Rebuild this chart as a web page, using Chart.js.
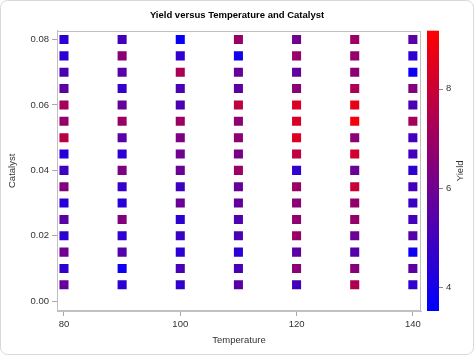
<!DOCTYPE html>
<html><head><meta charset="utf-8">
<script src="https://cdn.jsdelivr.net/npm/chart.js@4/dist/chart.umd.min.js"></script>
<style>html,body{margin:0;padding:0;background:#fff;overflow:hidden}</style>
</head><body>
<canvas id="c" width="474" height="355"></canvas>
<script>
const temperatures = [80, 90, 100, 110, 120, 130, 140];
const catalysts = [0.080, 0.075, 0.070, 0.065, 0.060, 0.055, 0.050, 0.045, 0.040, 0.035, 0.030, 0.025, 0.020, 0.015, 0.010, 0.005];
const yield80  = [4.5, 4.5, 5.2, 5.6, 7.2, 6.8, 7.6, 4.4, 4.9, 6.4, 4.4, 5.6, 4.5, 6.0, 4.6, 5.8];
const yield90  = [5.0, 6.6, 5.5, 4.7, 5.8, 6.9, 5.5, 4.5, 6.3, 4.7, 4.4, 6.4, 4.6, 5.4, 3.8, 4.5];
const yield100 = [3.6, 4.6, 7.3, 5.2, 5.2, 7.0, 6.3, 6.0, 5.9, 4.9, 5.9, 4.5, 4.8, 4.5, 5.1, 4.6];
const yield110 = [6.9, 3.9, 5.8, 5.6, 7.8, 6.7, 6.7, 6.2, 7.0, 5.8, 5.7, 5.3, 5.2, 4.5, 5.1, 5.5];
const yield120 = [6.0, 6.9, 5.7, 6.6, 8.4, 8.3, 8.4, 7.8, 4.6, 6.9, 6.6, 6.7, 6.9, 5.6, 6.6, 5.0];
const yield130 = [7.0, 6.8, 6.6, 7.3, 8.7, 9.0, 6.6, 8.2, 5.9, 8.0, 6.8, 6.8, 5.9, 5.4, 6.5, 7.4];
const yield140 = [5.5, 4.5, 3.8, 6.4, 5.2, 7.2, 5.0, 5.0, 4.5, 5.0, 4.8, 5.0, 5.4, 3.8, 5.6, 4.6];
const xTicks = [80, 100, 120, 140];
const yTicks = [0.00, 0.02, 0.04, 0.06, 0.08];
const colorTicks = [4, 6, 8];
const yieldMin = 3.52, yieldMax = 9.2;

const yieldByTemp = [yield80, yield90, yield100, yield110, yield120, yield130, yield140];
const points = [];
temperatures.forEach((t, i) => {
  catalysts.forEach((c, j) => points.push({x: t, y: c, v: yieldByTemp[i][j]}));
});

function colorFor(v) {
  let t = (v - yieldMin) / (yieldMax - yieldMin);
  t = Math.max(0, Math.min(1, t));
  return `rgb(${Math.round(255 * t)},0,${Math.round(255 * (1 - t))})`;
}

const FONT = "'Liberation Sans', Arial, sans-serif";
const TXT = '#333333';
const AX = '#a8a8a8';

const framePlugin = {
  id: 'frame',
  afterDraw(chart) {
    const {ctx, chartArea: a} = chart;
    ctx.save();
    ctx.strokeStyle = '#c0c0c0';
    ctx.lineWidth = 1;
    ctx.strokeRect(Math.round(a.left) + 0.5, Math.round(a.top) + 0.5,
      Math.round(a.right - a.left) - 1, Math.round(a.bottom - a.top) - 1);
    const s = chart.scales.cb;
    const x0 = a.right + 6, w = 12;
    const yTop = a.top, yBot = a.bottom;
    const g = ctx.createLinearGradient(0, yBot, 0, yTop);
    g.addColorStop(0, colorFor(yieldMin));
    g.addColorStop(1, colorFor(yieldMax));
    ctx.fillStyle = g;
    ctx.fillRect(x0, yTop, w, yBot - yTop);
    ctx.strokeStyle = '#888';
    colorTicks.forEach(v => {
      const y = Math.round(s.getPixelForValue(v)) + 0.5;
      ctx.beginPath(); ctx.moveTo(x0 + w, y); ctx.lineTo(x0 + w + 4, y); ctx.stroke();
    });
    ctx.fillStyle = TXT;
    ctx.font = `9.5px ${FONT}`;
    ctx.textAlign = 'center';
    ctx.textBaseline = 'middle';
    ctx.translate(460, (yTop + yBot) / 2);
    ctx.rotate(-Math.PI / 2);
    ctx.fillText('Yield', 0, 0);
    ctx.restore();
    ctx.save();
    ctx.strokeStyle = '#d8d8d8';
    ctx.beginPath();
    ctx.roundRect(0.5, 0.5, 473, 354, 7);
    ctx.stroke();
    ctx.restore();
  }
};

new Chart(document.getElementById('c'), {
  type: 'scatter',
  data: {
    datasets: [{
      data: points,
      pointStyle: 'rect',
      pointRadius: 6.4,
      pointHoverRadius: 6.4,
      pointBorderWidth: 0,
      backgroundColor: ctx => colorFor(ctx.raw ? ctx.raw.v : 6),
      borderColor: ctx => colorFor(ctx.raw ? ctx.raw.v : 6)
    }]
  },
  options: {
    responsive: false,
    devicePixelRatio: 1,
    animation: false,
    layout: {padding: 0},
    plugins: {
      legend: {display: false},
      tooltip: {enabled: false},
      title: {
        display: true,
        text: 'Yield versus Temperature and Catalyst',
        color: '#000',
        font: {family: FONT, size: 9.5, weight: 'bold'},
        padding: {top: 4.5, bottom: 10.1}
      }
    },
    scales: {
      x: {
        type: 'linear', min: 78.8, max: 141.4,
        afterBuildTicks: s => { s.ticks = xTicks.map(v => ({value: v})); },
        afterFit: s => { s.height = 44; },
        grid: {drawOnChartArea: false, drawTicks: true, tickLength: 5, color: AX},
        border: {display: true, color: '#c0c0c0'},
        ticks: {color: TXT, font: {family: FONT, size: 9.5}, padding: 3, maxRotation: 0},
        title: {display: true, text: 'Temperature', color: TXT, font: {family: FONT, size: 9.5}, padding: {top: 0, bottom: 8.5}}
      },
      y: {
        type: 'linear', min: -0.003, max: 0.0827,
        afterBuildTicks: s => { s.ticks = yTicks.map(v => ({value: v})); },
        afterFit: s => { s.width = 57; },
        grid: {drawOnChartArea: false, drawTicks: true, tickLength: 5, color: AX},
        border: {display: true, color: '#c0c0c0'},
        ticks: {color: TXT, font: {family: FONT, size: 9.5}, padding: 3, callback: v => Number(v).toFixed(2)},
        title: {display: true, text: 'Catalyst', color: TXT, font: {family: FONT, size: 9.5}, padding: {top: 6.3, bottom: 0}}
      },
      cb: {
        type: 'linear', position: 'right', min: 3.52, max: 9.17,
        afterBuildTicks: s => { s.ticks = colorTicks.map(v => ({value: v})); },
        afterFit: s => { s.width = 53; },
        grid: {display: false, drawTicks: false, drawOnChartArea: false},
        border: {display: false},
        ticks: {color: TXT, font: {family: FONT, size: 9.5}, padding: 25, callback: v => String(v)}
      }
    }
  },
  plugins: [framePlugin]
});
</script>
</body></html>
